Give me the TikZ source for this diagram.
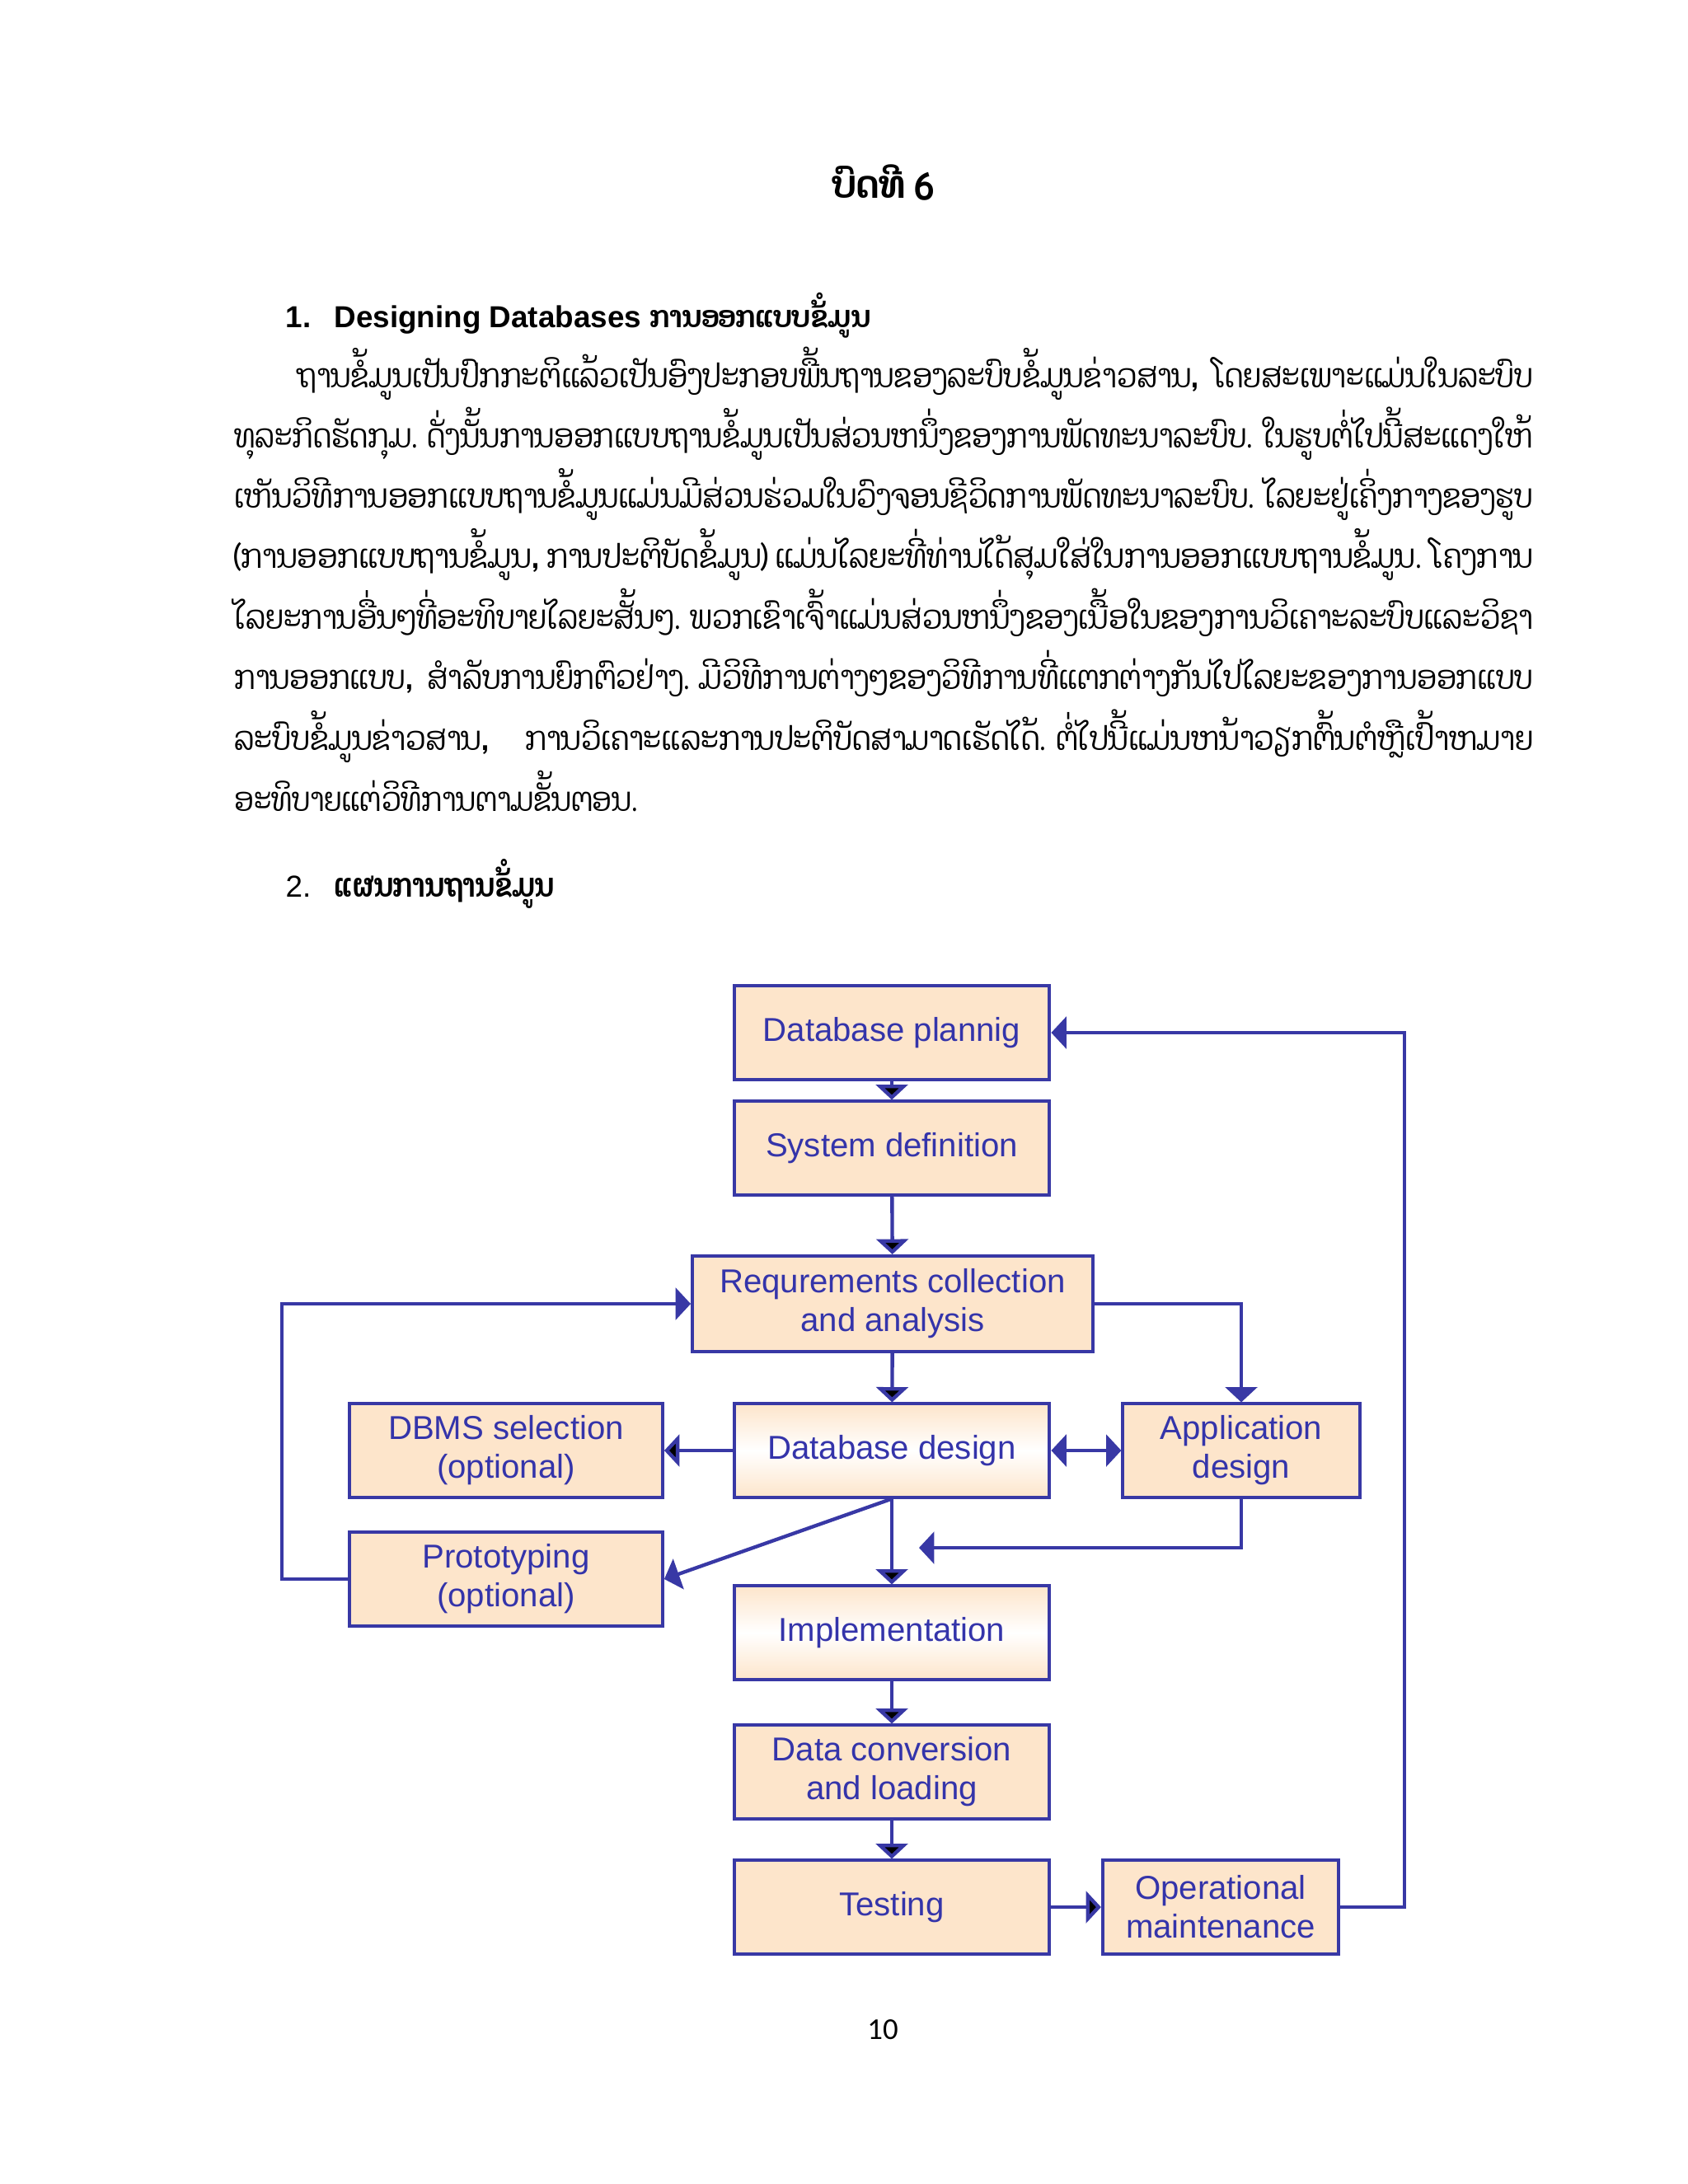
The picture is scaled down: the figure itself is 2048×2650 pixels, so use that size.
\documentclass[tikz,border=0pt]{standalone}
\usepackage{fontspec}
\usepackage{graphicx}
\setmainfont{Liberation Sans}
\newfontfamily\laofont[Script=Lao]{Dhyana}
\newfontfamily\pagefont{Carlito}
\usetikzlibrary{arrows.meta}

\definecolor{boxfill}{RGB}{253,229,203}
\definecolor{boxline}{RGB}{56,56,165}
\definecolor{boxtext}{RGB}{52,52,170}

% one justified line of the paragraph
\newcommand{\laoline}[2]{\resizebox{#1}{\height}{#2}}

\begin{document}
\begin{tikzpicture}[x=0.29883pt, y=-0.29883pt]
        % Setup the styles for the page and the chart
        \tikzset{lao text/.style={anchor=base west, inner sep=0pt,
                                  font=\laofont\fontsize{12}{14}\selectfont},
                 box style/.style={draw=boxline, line width=1.2pt,
                                   fill=boxfill, text=boxtext,
                                   font=\fontsize{12}{14}\selectfont,
                                   align=center, inner sep=0pt,
                                   minimum width=114.4pt,
                                   minimum height=33.8pt},
                 shaded style/.style={box style, top color=boxfill,
                                      bottom color=boxfill,
                                      middle color=white},
                 link/.style={->, >={Triangle[width=11.5pt,length=5.5pt]},
                              line width=1.3pt, draw=boxline}}

        \fill[white] (0,0) rectangle (2048,2650);
        \useasboundingbox (0,0) rectangle (2048,2650);

        % Page text
        \node[anchor=base, inner sep=0pt,
              font=\laofont\bfseries\fontsize{14}{16}\selectfont]
              at (1072,240) (title) {\scalebox{0.9}[1]{ບົດທີ 6}};
        \node[anchor=base west, inner sep=0pt,
              font=\bfseries\fontsize{11}{13}\selectfont] at (346,397) (num1) {1.};
        \node[anchor=base west, inner sep=0pt,
              font=\bfseries\fontsize{11}{13}\selectfont]
              at (405,397) (head1) {Designing Databases {\laofont\scalebox{0.88}[1]{ການອອກແບບຂໍ້ມູນ}}};
        \node[lao text] at (360,470) (line1) {\laoline{447.9pt}{ຖານຂໍ້ມູນເປັນປົກກະຕິແລ້ວເປັນອົງປະກອບພື້ນຖານຂອງລະບົບຂໍ້ມູນຂ່າວສານ, \ ໂດຍສະເພາະແມ່ນໃນລະບົບ}};
        \node[lao text] at (284,543) (line2) {\laoline{470.7pt}{ທຸລະກິດຮັດກຸມ. ດັ່ງນັ້ນການອອກແບບຖານຂໍ້ມູນເປັນສ່ວນຫນຶ່ງຂອງການພັດທະນາລະບົບ. ໃນຮູບຕໍ່ໄປນີ້ສະແດງໃຫ້}};
        \node[lao text] at (284,616) (line3) {\laoline{470.7pt}{ເຫັນວິທີການອອກແບບຖານຂໍ້ມູນແມ່ນມີສ່ວນຮ່ວມໃນວົງຈອນຊີວິດການພັດທະນາລະບົບ. ໄລຍະຢູ່ເຄິ່ງກາງຂອງຮູບ}};
        \node[lao text] at (284,689) (line4) {\laoline{470.7pt}{(ການອອກແບບຖານຂໍ້ມູນ, ການປະຕິບັດຂໍ້ມູນ) ແມ່ນໄລຍະທີ່ທ່ານໄດ້ສຸມໃສ່ໃນການອອກແບບຖານຂໍ້ມູນ. ໂຄງການ}};
        \node[lao text] at (284,763) (line5) {\laoline{470.7pt}{ໄລຍະການອື່ນໆທີ່ອະທິບາຍໄລຍະສັ້ນໆ. ພວກເຂົາເຈົ້າແມ່ນສ່ວນຫນຶ່ງຂອງເນື້ອໃນຂອງການວິເຄາະລະບົບແລະວິຊາ}};
        \node[lao text] at (284,836) (line6) {\laoline{470.7pt}{ການອອກແບບ, \ ສໍາລັບການຍົກຕົວຢ່າງ. ມີວິທີການຕ່າງໆຂອງວິທີການທີ່ແຕກຕ່າງກັນໄປໄລຍະຂອງການອອກແບບ}};
        \node[lao text] at (284,910) (line7) {\laoline{470.7pt}{ລະບົບຂໍ້ມູນຂ່າວສານ, \quad ການວິເຄາະແລະການປະຕິບັດສາມາດເຮັດໄດ້. ຕໍ່ໄປນີ້ແມ່ນຫນ້າວຽກຕົ້ນຕໍຫຼືເປົ້າຫມາຍ}};
        \node[lao text] at (284,984) (line8) {\scalebox{0.85}[1]{ອະທິບາຍແຕ່ວິທີການຕາມຂັ້ນຕອນ.}};
        \node[anchor=base west, inner sep=0pt,
              font=\fontsize{11}{13}\selectfont] at (346,1088) (num2) {2.};
        \node[lao text, font=\laofont\bfseries\fontsize{12}{14}\selectfont]
              at (405,1088) (head2) {\scalebox{0.8}[1]{ແຜນການຖານຂໍ້ມູນ}};
        \node[anchor=base, inner sep=0pt, font=\pagefont\fontsize{11}{13}\selectfont]
              at (1071,2474) (pagenum) {10};

        % Draw the boxes
        \node[box style] at (1082,1253) (plan) {Database plannig};
        \node[box style] at (1082,1393) (sysdef) {System definition};
        \node[box style, minimum width=145.2pt, minimum height=34.7pt]
              at (1083,1582) (req) {Requrements collection\\and analysis};
        \node[shaded style] at (1082,1760) (dbdesign) {Database design};
        \node[box style, minimum width=113.5pt] at (614,1760) (dbms) {DBMS selection\\(optional)};
        \node[box style, minimum width=85.8pt] at (1506,1760) (app) {Application\\design};
        \node[box style, minimum width=113.5pt] at (614,1916) (proto) {Prototyping\\(optional)};
        \node[shaded style] at (1082,1981) (impl) {Implementation};
        \node[box style] at (1082,2150) (dataconv) {Data conversion\\and loading};
        \node[box style] at (1082,2314) (testing) {Testing};
        \node[box style, minimum width=85.5pt] at (1481,2314) (opmaint) {Operational\\maintenance};
        \coordinate (appin) at (1115,1878);

        % Connect the boxes with arrows
        \draw[link]
            (plan)            edge            (sysdef)
            (sysdef)          edge            (req)
            (req)             edge            (dbdesign)
            (dbdesign)        edge            (dbms)
            (dbdesign)        edge            (impl)
            (impl)            edge            (dataconv)
            (dataconv)        edge            (testing)
            (testing)         edge            (opmaint);
        \draw[link, <->] (dbdesign) -- (app);
        \draw[link] (dbdesign.south) -- (proto.east);
        \draw[link] (req.east) -| (app.north);
        \draw[link] (app.south) |- (appin);
        \draw[link] (proto.west) -- ++(-80,0) |- (req.west);
        \draw[link] (opmaint.east) -- ++(78,0) |- (plan.east);
\end{tikzpicture}
\end{document}
